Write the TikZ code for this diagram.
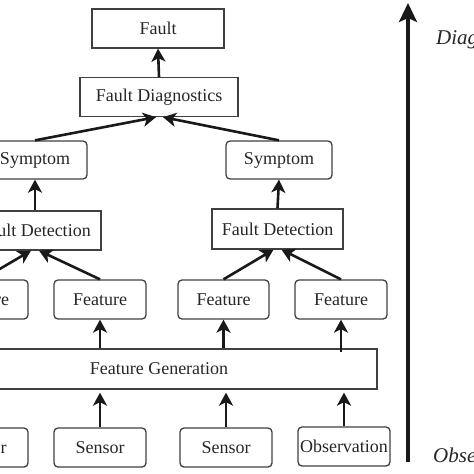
\documentclass[tikz,border=0pt]{standalone}
\usepackage{fontspec}
\setmainfont{Liberation Serif}
\usetikzlibrary{arrows.meta,calc}
\begin{document}
\begin{tikzpicture}[x=1pt,y=-1pt,
  box/.style={draw=black!75, line width=1.3pt, inner sep=0pt, minimum height=39pt,
    font=\fontsize{18}{20}\selectfont, text=black!85},
  rbox/.style={box, rounded corners=4pt},
  arr/.style={-{Stealth[length=13pt,width=14pt,inset=3.5pt]}, line width=2.6pt, black!90},
  bigarr/.style={-{Stealth[length=19pt,width=18pt,inset=4pt]}, line width=3.2pt, black!90},
  side/.style={font=\fontsize{21}{23}\selectfont\itshape, text=black!85, inner sep=0pt, anchor=west}]
\useasboundingbox (0,0) rectangle (474,474);
\clip (0,0) rectangle (474,474);
% top
\node[box, minimum width=132pt] (fault) at (158,28.5) {Fault};
\node[box, minimum width=158pt] (fd) at (159,97) {Fault Diagnostics};
% symptoms
\node[rbox, minimum width=104pt, minimum height=38pt] (s1) at (35,160) {Symptom};
\node[rbox, minimum width=106pt, minimum height=38pt] (s2) at (279,160) {Symptom};
% fault detection
\node[box, minimum width=132pt] (d1) at (35,230.5) {Fault Detection};
\node[box, minimum width=131pt, minimum height=40pt] (d2) at (277.5,229) {Fault Detection};
% features
\node[rbox, minimum width=92pt] (f1) at (-18,299.5) {Feature};
\node[rbox, minimum width=92pt] (f2) at (100,299.5) {Feature};
\node[rbox, minimum width=91pt] (f3) at (223.5,299.5) {Feature};
\node[rbox, minimum width=92pt] (f4) at (341,299.5) {Feature};
% feature generation
\node[box, minimum width=436pt, minimum height=40pt] (fg) at (159,369) {Feature Generation};
% sensors
\node[rbox, minimum width=92pt] (n1) at (-18,447.5) {Sensor};
\node[rbox, minimum width=92pt] (n2) at (100,447.5) {Sensor};
\node[rbox, minimum width=92pt] (n3) at (226,447.5) {Sensor};
\node[rbox, minimum width=92pt] (n4) at (344,446.5) {Observation};
% arrows
\draw[arr] (fd.north) -- (fault.south);
\draw[arr] (s1.north) -- ($(fd.south)+(-3,0)$);
\draw[arr] (s2.north) -- ($(fd.south)+(4,0)$);
\draw[arr] (d1.north) -- (s1.south);
\draw[arr] (d2.north) -- (s2.south);
\draw[arr] (f1.north) -- ($(d1.south)+(-4,0)$);
\draw[arr] (f2.north) -- ($(d1.south)+(4,0)$);
\draw[arr] (f3.north) -- ($(d2.south)+(-4,0)$);
\draw[arr] (f4.north) -- ($(d2.south)+(4,0)$);
\draw[arr] (fg.north -| f1.south) -- (f1.south);
\draw[arr] (fg.north -| f2.south) -- (f2.south);
\draw[arr] (fg.north -| f3.south) -- (f3.south);
\draw[arr] ($(fg.north -| f4.south)+(0,4)$) -- (f4.south);
\draw[arr] (n1.north) -- ($(fg.south -| n1.north)+(0,3)$);
\draw[arr] (n2.north) -- ($(fg.south -| n2.north)+(0,3)$);
\draw[arr] (n3.north) -- ($(fg.south -| n3.north)+(0,3)$);
\draw[arr] (n4.north) -- ($(fg.south -| n4.north)+(0,3)$);
% side axis
\coordinate (axb) at (408,462);
\coordinate (axt) at (408,3);
\draw[bigarr] (axb) -- (axt);
\node[side] (diag) at (436,40) {Diagnosis};
\node[side] (obs) at (433,455) {Observation};
\end{tikzpicture}
\end{document}
